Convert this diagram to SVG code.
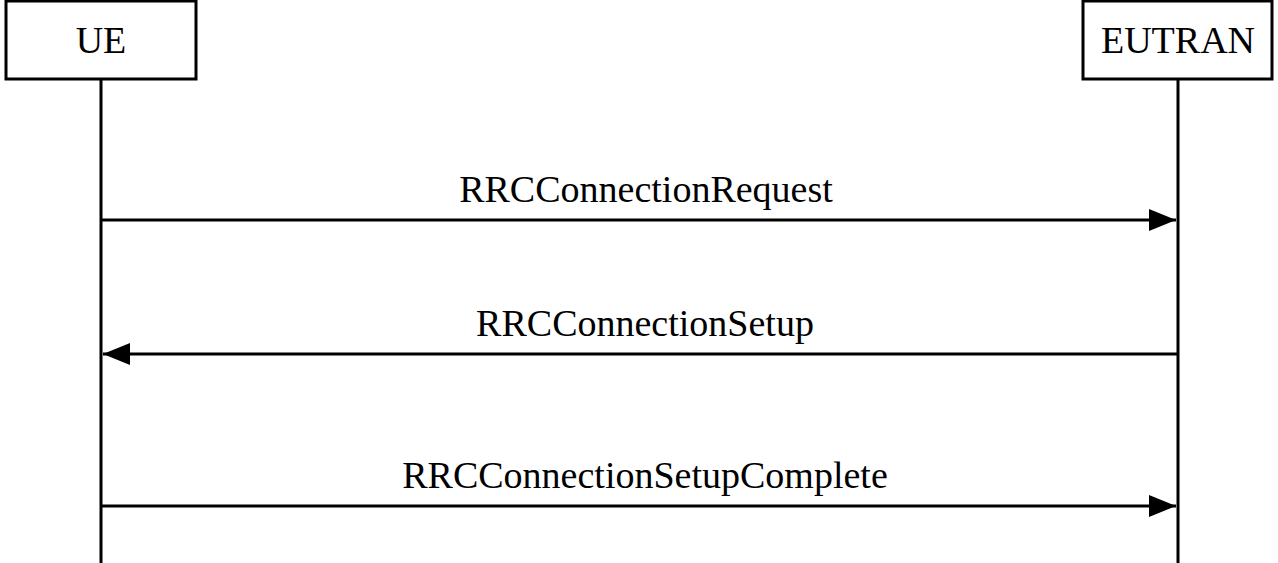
<svg xmlns="http://www.w3.org/2000/svg" width="1278" height="563" viewBox="0 0 1278 563">
<defs>
<marker id="ah" markerUnits="userSpaceOnUse" markerWidth="28" markerHeight="22" refX="27" refY="11" orient="auto">
<path d="M0,0 L27,11 L0,22 Z" fill="#000"/>
</marker>
<style>
.box{fill:#fff;stroke:#000;stroke-width:3}
.life{stroke:#000;stroke-width:3;fill:none}
.msg{stroke:#000;stroke-width:3;fill:none}
.nl{font-family:"Liberation Serif","Times New Roman",serif;font-size:38px;fill:#000;text-anchor:middle}
.ml{font-family:"Liberation Serif","Times New Roman",serif;font-size:38px;fill:#000;text-anchor:middle}
</style>
</defs>
<rect width="1278" height="563" fill="#fff"/>
<g id="ue">
<rect class="box" x="6" y="1" width="190" height="78"/>
<text class="nl" x="101" y="53">UE</text>
<line class="life" x1="101" y1="79" x2="101" y2="563"/>
</g>
<g id="eutran">
<rect class="box" x="1083" y="1" width="189" height="78"/>
<text class="nl" x="1178" y="53">EUTRAN</text>
<line class="life" x1="1178" y1="79" x2="1178" y2="563"/>
</g>
<g id="connectors">
<line class="msg" x1="101" y1="220" x2="1176" y2="220" marker-end="url(#ah)"/>
<text class="ml" x="646" y="202">RRCConnectionRequest</text>
<line class="msg" x1="1178" y1="354" x2="103" y2="354" marker-end="url(#ah)"/>
<text class="ml" x="645" y="336">RRCConnectionSetup</text>
<line class="msg" x1="101" y1="506" x2="1176" y2="506" marker-end="url(#ah)"/>
<text class="ml" x="645" y="488">RRCConnectionSetupComplete</text>
</g>
</svg>
